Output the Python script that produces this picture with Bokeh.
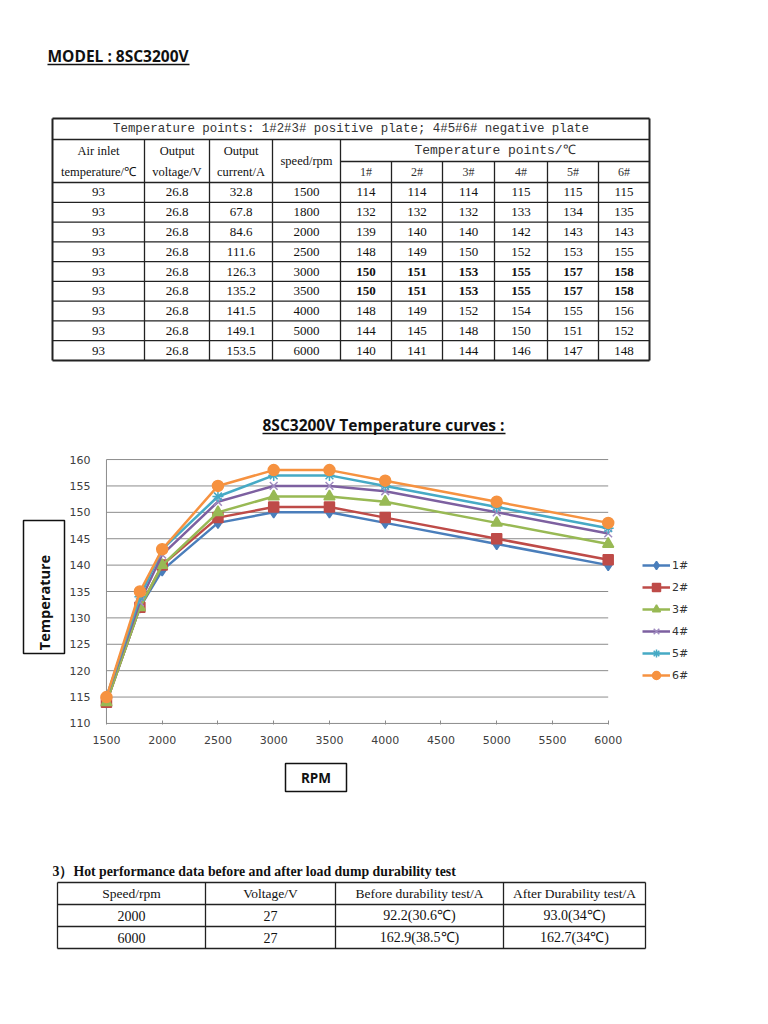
import numpy as np
from bokeh.plotting import figure
from bokeh.models import Range1d, FixedTicker, Legend, LegendItem
from bokeh.layouts import column, row
from bokeh.core.properties import value
from bokeh.embed import file_html
from bokeh.resources import INLINE

# ---------------- data ----------------
rpm = [1500, 1800, 2000, 2500, 3000, 3500, 4000, 5000, 6000]
air_inlet = [93, 93, 93, 93, 93, 93, 93, 93, 93]
voltage = ["26.8", "26.8", "26.8", "26.8", "26.8", "26.8", "26.8", "26.8", "26.8"]
current = ["32.8", "67.8", "84.6", "111.6", "126.3", "135.2", "141.5", "149.1", "153.5"]
t1 = [114, 132, 139, 148, 150, 150, 148, 144, 140]
t2 = [114, 132, 140, 149, 151, 151, 149, 145, 141]
t3 = [114, 132, 140, 150, 153, 153, 152, 148, 144]
t4 = [115, 133, 142, 152, 155, 155, 154, 150, 146]
t5 = [115, 134, 143, 153, 157, 157, 155, 151, 147]
t6 = [115, 135, 143, 155, 158, 158, 156, 152, 148]
series_names = ["1#", "2#", "3#", "4#", "5#", "6#"]
bold_rows = [4, 5]

y_ticks = [110, 115, 120, 125, 130, 135, 140, 145, 150, 155, 160]
x_ticks = [1500, 2000, 2500, 3000, 3500, 4000, 4500, 5000, 5500, 6000]

header_cols = [("Air inlet", "temperature/℃"), ("Output", "voltage/V"), ("Output", "current/A")]
table_title = "Temperature points: 1#2#3# positive plate; 4#5#6# negative plate"

t2_header = ["Speed/rpm", "Voltage/V", "Before durability test/A", "After Durability test/A"]
t2_speed = ["2000", "6000"]
t2_voltage = ["27", "27"]
t2_before = ["92.2(30.6℃)", "162.9(38.5℃)"]
t2_after = ["93.0(34℃)", "162.7(34℃)"]

# ---------------- styles ----------------
colors = ["#4A7EBB", "#BE4B48", "#98B954", "#7D60A0", "#46AAC5", "#F69240"]
mcolors = ["#4A7EBB", "#BE4B48", "#98B954", "#A08CC0", "#46AAC5", "#F69240"]
markers = ["diamond", "square", "triangle", "x", "asterisk", "circle"]
msizes = [11, 10, 11, 11, 11, 11]
SERIF = "Liberation Serif"
MONO = "Liberation Mono"
SANS_B = "Open Sans"


def txt(p, xs, ys, texts, font=SERIF, size="13px", style="normal", align="center",
        color="#111111", angle=0.0):
    p.text(x=xs, y=ys, text=texts, text_font=value(font), text_font_size=value(size),
           text_font_style=value(style), text_align=align, text_baseline="middle",
           text_color=color, angle=angle)


def page_fig(w, h, x0, x1, y0, y1, **kw):
    opts = dict(min_border=0)
    opts.update(kw)
    f = figure(width=w, height=h, x_range=Range1d(x0, x1), y_range=Range1d(y1, y0),
               x_axis_location=None, y_axis_location=None, toolbar_location=None,
               output_backend="svg", outline_line_color=None, **opts)
    f.xgrid.grid_line_color = None
    f.ygrid.grid_line_color = None
    return f


# ---------------- top part ----------------
top = page_fig(760, 440, 0, 760, 0, 440)
txt(top, [47], [55], ["MODEL : 8SC3200V"], font=SANS_B, size="15.5px", style="bold", align="left")
top.segment(x0=[47], y0=[64], x1=[189], y1=[64], line_color="#111111", line_width=1.5)

cols = [52, 144, 209, 272, 340, 391, 442, 494, 547, 598, 649]
y_top, y_title, y_sub, y_head, y_bot = 118, 139, 161, 182, 360
row_h = (y_bot - y_head) / len(rpm)
row_lines = [y_head + (k + 1) * row_h for k in range(len(rpm))]

hl = [y_title, y_head] + row_lines[:-1]
top.segment(x0=[cols[0]] * len(hl), y0=hl, x1=[cols[-1]] * len(hl), y1=hl,
            line_color="#222222", line_width=1.3)
top.segment(x0=[cols[4]], y0=[y_sub], x1=[cols[-1]], y1=[y_sub], line_color="#222222", line_width=1.3)
top.segment(x0=[cols[0], cols[0]], y0=[y_top, y_bot], x1=[cols[-1], cols[-1]], y1=[y_top, y_bot],
            line_color="#222222", line_width=2)
top.segment(x0=[cols[0], cols[-1]], y0=[y_top, y_top], x1=[cols[0], cols[-1]], y1=[y_bot, y_bot],
            line_color="#222222", line_width=2)
top.segment(x0=cols[1:5], y0=[y_title] * 4, x1=cols[1:5], y1=[y_bot] * 4,
            line_color="#222222", line_width=1.3)
top.segment(x0=cols[5:10], y0=[y_sub] * 5, x1=cols[5:10], y1=[y_bot] * 5,
            line_color="#222222", line_width=1.3)

centers = [(cols[i] + cols[i + 1]) / 2 for i in range(len(cols) - 1)]
txt(top, [(cols[0] + cols[-1]) / 2], [(y_top + y_title) / 2], [table_title],
    font=MONO, size="12.4px", color="#333333")
for i, (a, b) in enumerate(header_cols):
    txt(top, [centers[i], centers[i]], [150, 171.5], [a, b], size="12.5px")
txt(top, [centers[3]], [(y_title + y_head) / 2], ["speed/rpm"], size="12.5px")
txt(top, [(cols[4] + cols[-1]) / 2], [150], ["Temperature points/℃"], font=MONO, size="13px",
    color="#333333")
txt(top, centers[4:], [171.5] * 6, series_names, size="12px", color="#333333")

temps = [t1, t2, t3, t4, t5, t6]
for r in range(len(rpm)):
    yc = y_head + (r + 0.5) * row_h
    left_vals = [str(air_inlet[r]), voltage[r], current[r], str(rpm[r])]
    txt(top, centers[:4], [yc] * 4, left_vals, size="13px")
    tv = [str(t[r]) for t in temps]
    txt(top, centers[4:], [yc] * 6, tv, size="13px",
        style="bold" if r in bold_rows else "normal")

txt(top, [262], [424], ["8SC3200V  Temperature curves :"], font=SANS_B, size="15.5px",
    style="bold", align="left")
top.segment(x0=[262], y0=[433], x1=[505], y1=[433], line_color="#111111", line_width=1.5)

# ---------------- chart ----------------
CH_TOP, CH_BOT = 18, 36
chart = figure(width=694, height=320, x_range=Range1d(1410.7, 7366), y_range=Range1d(109.8, 160.2),
               toolbar_location=None, output_backend="svg", min_border_left=27, min_border_right=0,
               min_border_top=CH_TOP, min_border_bottom=CH_BOT, outline_line_color=None)
chart.xgrid.visible = False
chart.ygrid.visible = False

# ---------------- y label panel (frame aligned with the chart frame) ----------------
yl = page_fig(66, 320, 0, 66, 440 + CH_TOP, 760 - CH_BOT,
              min_border_top=CH_TOP, min_border_bottom=CH_BOT)
yl.quad(left=[23], right=[64], top=[520], bottom=[653], fill_color=None,
        line_color="#111111", line_width=1.5)
txt(yl, [44], [602], ["Temperature"], font=SANS_B, size="14.5px", style="bold", angle=np.pi / 2)

n = len(y_ticks)
chart.segment(x0=[x_ticks[0]] * n, y0=y_ticks, x1=[x_ticks[-1]] * n, y1=y_ticks,
              line_color="#8C8C8C", line_width=1)
chart.segment(x0=[x_ticks[0]], y0=[y_ticks[0]], x1=[x_ticks[0]], y1=[y_ticks[-1]],
              line_color="#8C8C8C", line_width=1)

items = []
for i, t in enumerate(temps):
    ln = chart.line(rpm, t, line_color=colors[i], line_width=2.5)
    mk = chart.scatter(rpm, t, marker=markers[i], size=msizes[i], fill_color=mcolors[i],
                       line_color=mcolors[i], line_width=1.5)
    items.append(LegendItem(label=series_names[i], renderers=[ln, mk]))

legend = Legend(items=items, location=(546, 39), orientation="vertical", padding=0, margin=0,
                spacing=2, glyph_height=20, glyph_width=28, label_height=20, label_standoff=2,
                border_line_color=None, background_fill_alpha=0,
                label_text_font="DejaVu Sans", label_text_font_size="11px",
                label_text_color="#333333")
chart.add_layout(legend)

for ax in (chart.xaxis[0], chart.yaxis[0]):
    ax.axis_line_color = None
    ax.minor_tick_line_color = None
    ax.major_label_text_font = "DejaVu Sans"
    ax.major_label_text_font_size = "11px"
    ax.major_label_text_color = "#404040"
    ax.major_tick_line_color = "#8C8C8C"

chart.xaxis.ticker = FixedTicker(ticks=x_ticks)
chart.xaxis.major_tick_in = 4
chart.xaxis.major_tick_out = 0
chart.xaxis.major_label_standoff = 11
chart.yaxis.ticker = FixedTicker(ticks=y_ticks)
chart.yaxis.major_tick_in = 0
chart.yaxis.major_tick_out = 0
chart.yaxis.major_label_standoff = 6

# ---------------- bottom part ----------------
bot = page_fig(760, 264, 0, 760, 760, 1024)
bot.quad(left=[285], right=[346], top=[763], bottom=[791], fill_color=None,
         line_color="#111111", line_width=1.5)
txt(bot, [315.5], [777], ["RPM"], font=SANS_B, size="13.5px", style="bold")

txt(bot, [52], [871], ["3）Hot performance data before and after load dump durability test"],
    size="13.8px", style="bold", align="left")

c2 = [57, 205, 335, 503, 645]
r2 = [882, 904, 926, 948]
bot.segment(x0=[c2[0]] * 4, y0=r2, x1=[c2[-1]] * 4, y1=r2, line_color="#222222", line_width=1.3)
bot.segment(x0=c2, y0=[r2[0]] * 5, x1=c2, y1=[r2[-1]] * 5, line_color="#222222", line_width=1.3)
cc2 = [(c2[i] + c2[i + 1]) / 2 for i in range(4)]
txt(bot, cc2, [(r2[0] + r2[1]) / 2] * 4, t2_header, size="13.5px")
for k in range(2):
    yc = (r2[k + 1] + r2[k + 2]) / 2
    txt(bot, cc2, [yc] * 4, [t2_speed[k], t2_voltage[k], t2_before[k], t2_after[k]], size="14px")

p = column(top, row(yl, chart), bot)
open("out.html", "w").write(file_html(p, INLINE))
